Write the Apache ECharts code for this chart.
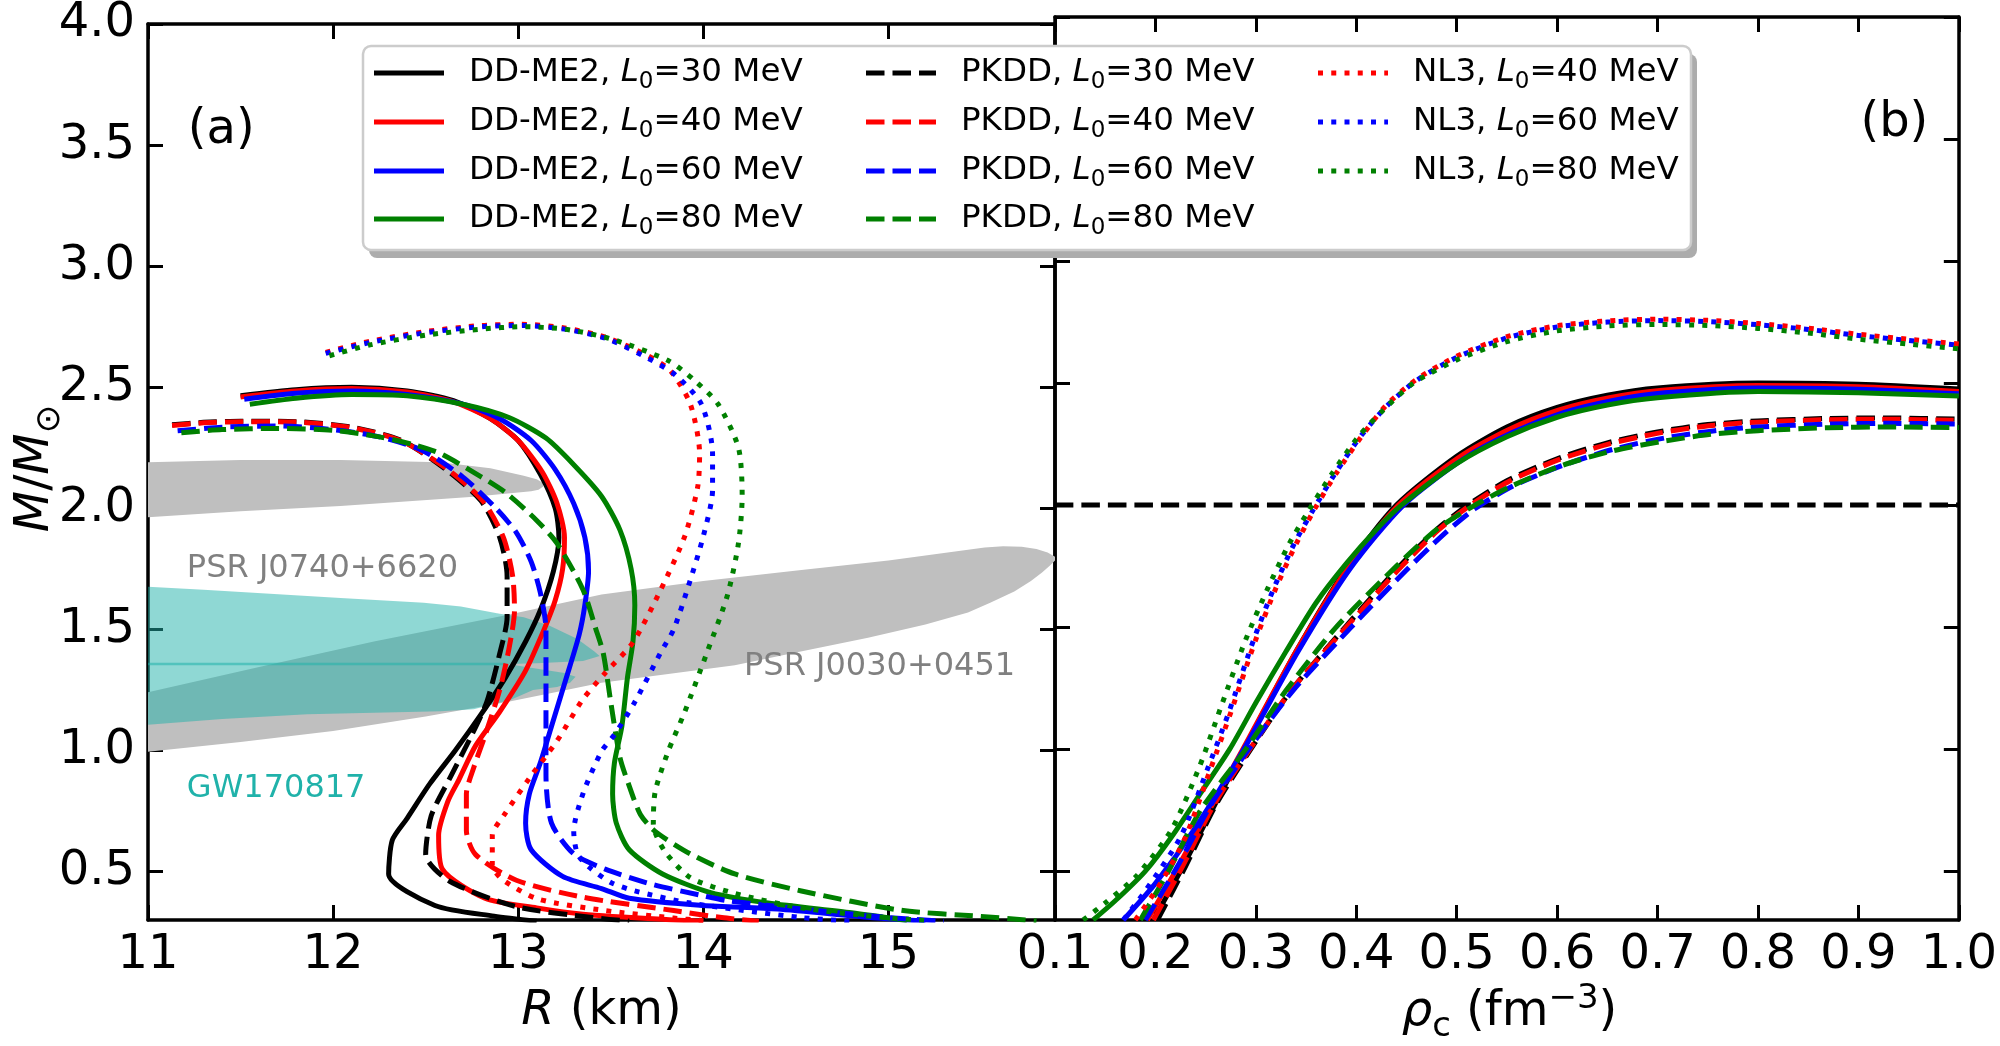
<!DOCTYPE html>
<html>
<head>
    <meta http-equiv="Content-Type" content="text/html; charset=UTF-8">
    <title>M-R and M-rho_c</title>
    <script src="https://cdn.jsdelivr.net/npm/echarts@6/dist/echarts.min.js"></script>
</head>
<body style="margin:0;background:#fff;">
<div id="main" style="width: 2000px; height: 1046px;"></div>

<script type="text/javascript">
    // ---- tick values ----
    var M_TICKS = [0.5, 1.0, 1.5, 2.0, 2.5, 3.0, 3.5, 4.0];
    var R_TICKS = [11, 12, 13, 14, 15];
    var RHO_TICKS = [0.1, 0.2, 0.3, 0.4, 0.5, 0.6, 0.7, 0.8, 0.9, 1.0];

    // ---- panel (a): M vs R, [R (km), M/Msun] ----
    var mrDDME2_30 = [[11.50,2.465],[11.8,2.49],[12.1,2.50],[12.4,2.485],[12.65,2.445],[12.85,2.37],[13.0,2.28],[13.12,2.14],[13.2,2.0],[13.22,1.88],[13.19,1.74],[13.12,1.58],[13.04,1.45],[12.93,1.3],[12.8,1.15],[12.66,1.0],[12.52,0.86],[12.4,0.72],[12.32,0.63],[12.3,0.49],[12.55,0.36],[12.87,0.316],[13.1,0.295]];
    var mrDDME2_40 = [[11.50,2.46],[11.8,2.485],[12.1,2.495],[12.4,2.48],[12.65,2.44],[12.85,2.37],[13.0,2.28],[13.13,2.15],[13.21,2.02],[13.25,1.88],[13.24,1.75],[13.2,1.62],[13.14,1.5],[13.04,1.33],[12.9,1.16],[12.77,1.02],[12.68,0.88],[12.62,0.79],[12.57,0.65],[12.59,0.51],[12.82,0.39],[13.1,0.35],[13.35,0.324],[13.84,0.30],[14.0,0.295]];
    var mrDDME2_60 = [[11.52,2.45],[11.8,2.475],[12.1,2.485],[12.4,2.47],[12.7,2.43],[12.9,2.37],[13.07,2.28],[13.2,2.16],[13.3,2.02],[13.36,1.88],[13.38,1.74],[13.36,1.6],[13.33,1.48],[13.26,1.3],[13.18,1.1],[13.12,0.95],[13.06,0.82],[13.04,0.70],[13.07,0.59],[13.24,0.48],[13.45,0.43],[13.6,0.39],[14.0,0.36],[14.4,0.345],[14.9,0.31],[15.2,0.295]];
    var mrDDME2_80 = [[11.55,2.43],[11.8,2.455],[12.1,2.47],[12.4,2.465],[12.7,2.43],[12.95,2.375],[13.15,2.29],[13.3,2.18],[13.45,2.05],[13.55,1.91],[13.61,1.75],[13.63,1.6],[13.62,1.45],[13.59,1.3],[13.56,1.1],[13.52,0.95],[13.51,0.82],[13.53,0.70],[13.6,0.59],[13.78,0.49],[14.04,0.413],[14.35,0.37],[14.8,0.33],[15.1,0.298]];

    var mrPKDD_30 = [[11.13,2.345],[11.3,2.355],[11.5,2.36],[11.8,2.358],[12.1,2.335],[12.37,2.28],[12.61,2.16],[12.8,2.03],[12.9,1.88],[12.94,1.72],[12.94,1.55],[12.9,1.40],[12.83,1.20],[12.74,1.05],[12.63,0.885],[12.53,0.73],[12.5,0.57],[12.63,0.46],[12.99,0.355],[13.4,0.31],[13.6,0.295]];
    var mrPKDD_40 = [[11.13,2.342],[11.3,2.353],[11.5,2.358],[11.8,2.356],[12.1,2.333],[12.37,2.278],[12.62,2.16],[12.81,2.03],[12.92,1.88],[12.97,1.72],[12.98,1.58],[12.95,1.42],[12.9,1.25],[12.82,1.06],[12.76,0.93],[12.72,0.82],[12.72,0.67],[12.77,0.57],[12.99,0.464],[13.35,0.394],[13.84,0.339],[14.1,0.31],[14.3,0.295]];
    var mrPKDD_60 = [[11.16,2.32],[11.4,2.335],[11.7,2.34],[12.0,2.325],[12.25,2.295],[12.48,2.24],[12.7,2.13],[12.88,2.0],[12.99,1.9],[13.07,1.78],[13.12,1.65],[13.15,1.5],[13.15,1.3],[13.15,1.1],[13.15,0.9],[13.18,0.70],[13.3,0.573],[13.47,0.51],[13.72,0.448],[14.0,0.40],[14.13,0.38],[14.6,0.34],[15.0,0.31],[15.3,0.295]];
    var mrPKDD_80 = [[11.18,2.312],[11.4,2.325],[11.7,2.33],[12.0,2.322],[12.25,2.295],[12.45,2.26],[12.58,2.226],[12.8,2.13],[12.94,2.06],[13.1,1.95],[13.21,1.855],[13.35,1.664],[13.42,1.5],[13.46,1.40],[13.5,1.2],[13.55,0.97],[13.6,0.853],[13.66,0.736],[13.74,0.666],[13.93,0.573],[14.17,0.49],[14.53,0.42],[15.07,0.34],[15.5,0.315],[15.74,0.30],[15.8,0.296]];

    var mrNL3_40 = [[11.96,2.644],[12.2,2.69],[12.5,2.73],[12.8,2.755],[13.02,2.76],[13.25,2.745],[13.48,2.705],[13.7,2.63],[13.82,2.57],[13.93,2.43],[13.98,2.226],[13.97,2.09],[13.9,1.885],[13.77,1.664],[13.62,1.446],[13.47,1.32],[13.35,1.212],[13.21,1.04],[13.06,0.885],[12.92,0.729],[12.86,0.651],[12.86,0.526],[12.92,0.464],[13.11,0.386],[13.47,0.339],[13.84,0.308],[14.0,0.297]];
    var mrNL3_60 = [[11.96,2.64],[12.2,2.685],[12.5,2.725],[12.8,2.75],[13.02,2.755],[13.25,2.74],[13.48,2.70],[13.7,2.62],[13.85,2.55],[13.99,2.43],[14.05,2.226],[14.05,2.075],[14.0,1.885],[13.92,1.68],[13.84,1.50],[13.77,1.405],[13.63,1.20],[13.52,1.065],[13.45,0.996],[13.35,0.822],[13.30,0.666],[13.32,0.573],[13.38,0.52],[13.5,0.455],[13.63,0.42],[13.93,0.37],[14.53,0.31],[14.8,0.295]];
    var mrNL3_80 = [[11.98,2.63],[12.2,2.675],[12.5,2.715],[12.8,2.74],[13.02,2.75],[13.25,2.74],[13.5,2.70],[13.81,2.61],[13.95,2.53],[14.08,2.43],[14.19,2.25],[14.21,2.05],[14.19,1.856],[14.13,1.64],[14.02,1.405],[13.9,1.16],[13.81,0.996],[13.74,0.83],[13.73,0.695],[13.79,0.586],[13.93,0.475],[14.17,0.41],[14.53,0.35],[14.98,0.31],[15.2,0.298]];

    // ---- panel (b): M vs rho_c, [rho_c (fm^-3), M/Msun] ----
    var rhoDDME2_30 = [[0.198,0.3],[0.225,0.5],[0.25,0.70],[0.288,1.0],[0.34,1.40],[0.39,1.74],[0.44,2.0],[0.5,2.2],[0.55,2.32],[0.6,2.40],[0.65,2.45],[0.7,2.48],[0.8,2.50],[0.9,2.495],[1.0,2.476]];
    var rhoDDME2_40 = [[0.192,0.3],[0.22,0.5],[0.247,0.70],[0.287,1.0],[0.34,1.40],[0.391,1.74],[0.442,2.0],[0.502,2.195],[0.552,2.31],[0.602,2.39],[0.652,2.44],[0.702,2.47],[0.8,2.49],[0.9,2.485],[1.0,2.466]];
    var rhoDDME2_60 = [[0.168,0.3],[0.2,0.45],[0.24,0.68],[0.288,1.0],[0.342,1.40],[0.394,1.74],[0.447,2.0],[0.507,2.19],[0.557,2.30],[0.607,2.38],[0.657,2.43],[0.707,2.46],[0.8,2.48],[0.9,2.475],[1.0,2.456]];
    var rhoDDME2_80 = [[0.138,0.3],[0.163,0.39],[0.19,0.5],[0.216,0.64],[0.245,0.82],[0.274,1.0],[0.30,1.19],[0.33,1.40],[0.36,1.6],[0.39,1.76],[0.42,1.9],[0.445,2.0],[0.5,2.17],[0.55,2.28],[0.6,2.36],[0.65,2.41],[0.7,2.44],[0.8,2.465],[0.9,2.46],[1.0,2.447]];

    var rhoPKDD_30 = [[0.202,0.3],[0.23,0.52],[0.26,0.77],[0.295,1.0],[0.335,1.24],[0.389,1.5],[0.442,1.745],[0.48,1.9],[0.511,2.0],[0.55,2.1],[0.6,2.19],[0.65,2.255],[0.7,2.3],[0.75,2.33],[0.8,2.345],[0.87,2.355],[0.93,2.357],[1.0,2.352]];
    var rhoPKDD_40 = [[0.198,0.3],[0.227,0.52],[0.258,0.77],[0.294,1.0],[0.335,1.24],[0.39,1.5],[0.443,1.74],[0.481,1.895],[0.512,1.995],[0.551,2.095],[0.601,2.185],[0.651,2.25],[0.701,2.295],[0.751,2.325],[0.8,2.34],[0.87,2.35],[0.93,2.352],[1.0,2.347]];
    var rhoPKDD_60 = [[0.19,0.3],[0.222,0.52],[0.255,0.77],[0.293,1.0],[0.337,1.24],[0.395,1.5],[0.449,1.73],[0.487,1.88],[0.518,1.985],[0.557,2.08],[0.607,2.165],[0.657,2.23],[0.707,2.275],[0.757,2.305],[0.8,2.32],[0.87,2.332],[0.93,2.335],[1.0,2.332]];
    var rhoPKDD_80 = [[0.185,0.3],[0.213,0.5],[0.245,0.75],[0.29,1.0],[0.33,1.24],[0.38,1.5],[0.44,1.75],[0.48,1.9],[0.514,1.99],[0.553,2.075],[0.603,2.16],[0.653,2.22],[0.703,2.26],[0.753,2.29],[0.8,2.305],[0.87,2.317],[0.93,2.32],[1.0,2.318]];

    var rhoNL3_40 = [[0.18,0.3],[0.205,0.45],[0.23,0.64],[0.255,0.92],[0.275,1.15],[0.3,1.45],[0.32,1.66],[0.34,1.84],[0.358,1.98],[0.38,2.13],[0.405,2.28],[0.43,2.41],[0.46,2.515],[0.5,2.61],[0.55,2.69],[0.6,2.735],[0.65,2.755],[0.7,2.762],[0.75,2.757],[0.8,2.744],[0.85,2.725],[0.9,2.70],[0.95,2.68],[1.0,2.66]];
    var rhoNL3_60 = [[0.168,0.3],[0.19,0.42],[0.225,0.64],[0.252,0.92],[0.273,1.15],[0.298,1.45],[0.318,1.66],[0.338,1.84],[0.357,1.98],[0.379,2.13],[0.404,2.28],[0.429,2.40],[0.459,2.508],[0.5,2.605],[0.55,2.685],[0.6,2.73],[0.65,2.75],[0.7,2.756],[0.75,2.752],[0.8,2.739],[0.85,2.72],[0.9,2.695],[0.95,2.675],[1.0,2.655]];
    var rhoNL3_80 = [[0.128,0.3],[0.15,0.37],[0.181,0.48],[0.216,0.67],[0.244,0.93],[0.265,1.17],[0.29,1.45],[0.312,1.66],[0.333,1.84],[0.353,1.98],[0.376,2.13],[0.402,2.28],[0.427,2.39],[0.457,2.5],[0.5,2.595],[0.55,2.67],[0.6,2.714],[0.65,2.734],[0.7,2.74],[0.75,2.736],[0.8,2.724],[0.85,2.705],[0.9,2.68],[0.95,2.66],[1.0,2.64]];

    var twoSolarMass = [[0.1, 2.0], [1.0, 2.0]];

    // ---- observational constraints (outlines in R, M) ----
    var bandJ0740 = [[11,2.19],[11.5,2.2],[12.04,2.2],[12.58,2.19],[12.85,2.165],[13.03,2.135],[13.1,2.12],[13.135,2.105],[13.135,2.09],[13.11,2.077],[13.07,2.07],[12.76,2.048],[12.04,2.01],[11.5,1.988],[11,1.963]];
    var bandJ0030 = [[11,1.24],[11.6,1.345],[12.22,1.45],[12.94,1.56],[13.45,1.644],[14.0,1.70],[14.53,1.745],[15.0,1.785],[15.25,1.81],[15.52,1.838],[15.62,1.843],[15.72,1.841],[15.8,1.832],[15.86,1.818],[15.9,1.80],
                     [15.9,1.785],[15.87,1.762],[15.83,1.735],[15.77,1.70],[15.68,1.657],[15.55,1.61],[15.43,1.57],[15.2,1.52],[14.89,1.466],[14.5,1.405],[14.17,1.352],[13.8,1.315],[13.45,1.28],[13.2,1.24],[12.94,1.20],[12.5,1.14],[12.0,1.08],[11.5,1.035],[11,0.995]];
    var bandGW170817 = [[11,1.676],[11.3,1.664],[12.04,1.63],[12.49,1.61],[12.69,1.595],[12.9,1.565],[13.03,1.55],[13.17,1.515],[13.32,1.46],[13.41,1.41],[13.44,1.39],[13.35,1.37],[13.1,1.36],[12.94,1.357],
                        [13.12,1.335],[13.25,1.32],[13.31,1.305],[13.28,1.28],[13.21,1.262],[13.08,1.25],[12.96,1.21],[12.76,1.17],[12.58,1.162],[11.86,1.15],[11.4,1.13],[11,1.106]];
    var gwMidLine = [[11,1.357],[12.93,1.357]];

    // ---- annotation anchors (data coords) ----
    var notesA = [
        {text: 'PSR J0740+6620', at: [11.21, 1.750], color: '#808080'},
        {text: 'PSR J0030+0451', at: [14.22, 1.344], color: '#808080'},
        {text: 'GW170817', at: [11.21, 0.844], color: '#20b2aa'},
        {text: '(a)', at: [11.215, 3.562], color: '#000', size: 48}
    ];
    var notesB = [
        {text: '(b)', at: [0.902, 3.562], color: '#000', size: 48}
    ];

    var FONT = 'DejaVu Sans';
    var SOLID = 'solid', DASHED = [18.5, 8], DOTTED = [5, 8.25];
    var GL = {left: 148, top: 17, width: 907, height: 903};
    var GR = {left: 1055, top: 17, width: 909, height: 903};

    var models = [
        {name: 'DD-ME2', L: [30, 40, 60, 80], colors: ['#000000', '#ff0000', '#0000ff', '#008000'], dash: SOLID,
            mr: [mrDDME2_30, mrDDME2_40, mrDDME2_60, mrDDME2_80], rho: [rhoDDME2_30, rhoDDME2_40, rhoDDME2_60, rhoDDME2_80]},
        {name: 'PKDD', L: [30, 40, 60, 80], colors: ['#000000', '#ff0000', '#0000ff', '#008000'], dash: DASHED,
            mr: [mrPKDD_30, mrPKDD_40, mrPKDD_60, mrPKDD_80], rho: [rhoPKDD_30, rhoPKDD_40, rhoPKDD_60, rhoPKDD_80]},
        {name: 'NL3', L: [40, 60, 80], colors: ['#ff0000', '#0000ff', '#008000'], dash: DOTTED,
            mr: [mrNL3_40, mrNL3_60, mrNL3_80], rho: [rhoNL3_40, rhoNL3_60, rhoNL3_80]}
    ];

    function curve(data, color, dash, idx) {
        return {
            type: 'line', data: data, xAxisIndex: idx, yAxisIndex: idx,
            showSymbol: false, symbol: 'none', smooth: 0.25, silent: true, z: 5,
            lineStyle: {color: color, width: 5, type: dash, cap: 'butt', join: 'round'}
        };
    }

    function band(pts, fill) {
        return {
            type: 'custom', xAxisIndex: 0, yAxisIndex: 0, silent: true, z: 2,
            data: [pts[0]],
            renderItem: function (params, api) {
                return {
                    type: 'polygon',
                    shape: {points: pts.map(function (p) { return api.coord(p); })},
                    style: {fill: fill}
                };
            }
        };
    }

    function axis(dim, grid, pos, min, max, ticks, labels) {
        return {
            type: 'value', gridIndex: grid, position: pos, min: min, max: max,
            axisLine: {show: true, onZero: false, lineStyle: {color: '#000', width: 3.5}},
            axisTick: {show: true, inside: true, length: 15, customValues: ticks, lineStyle: {color: '#000', width: 3}},
            splitLine: {show: false},
            axisLabel: {show: !!labels, customValues: ticks, fontSize: 48, fontFamily: FONT, color: '#000',
                margin: dim === 'x' ? 12 : 13, formatter: labels || undefined}
        };
    }

    var series = [
        band(bandJ0740, '#bfbfbf'),
        band(bandJ0030, '#bfbfbf'),
        band(bandGW170817, 'rgba(32,178,170,0.5)'),
        {type: 'line', data: gwMidLine, xAxisIndex: 0, yAxisIndex: 0, showSymbol: false, symbol: 'none', silent: true, z: 3,
            lineStyle: {color: 'rgba(32,178,170,0.55)', width: 2.5}},
        curve(twoSolarMass, '#000000', DASHED, 1)
    ];
    models.forEach(function (m) {
        m.L.forEach(function (L, k) {
            series.push(curve(m.mr[k], m.colors[k], m.dash, 0));
            series.push(curve(m.rho[k], m.colors[k], m.dash, 1));
        });
    });

    var fmt1 = function (v) { return v.toFixed(1); };
    var fmt0 = function (v) { return String(Math.round(v)); };

    var chart = echarts.init(document.getElementById('main'));
    chart.setOption({
        animation: false,
        backgroundColor: '#ffffff',
        grid: [
            {left: GL.left, top: GL.top, width: GL.width, height: GL.height},
            {left: GR.left, top: GR.top, width: GR.width, height: GR.height}
        ],
        xAxis: [
            axis('x', 0, 'bottom', 11, 15.9, R_TICKS, fmt0),
            axis('x', 1, 'bottom', 0.1, 1.0, RHO_TICKS, fmt1),
            axis('x', 0, 'top', 11, 15.9, R_TICKS, null),
            axis('x', 1, 'top', 0.1, 1.0, RHO_TICKS, null)
        ],
        yAxis: [
            axis('y', 0, 'left', 0.3, 4.0, M_TICKS, fmt1),
            axis('y', 1, 'left', 0.3, 4.0, M_TICKS, null),
            axis('y', 0, 'right', 0.3, 4.0, M_TICKS, null),
            axis('y', 1, 'right', 0.3, 4.0, M_TICKS, null)
        ],
        series: series
    });

    // ---- texts, axis titles and legend ----
    function rich(size) {
        return {
            n: {fontSize: size, fontFamily: FONT, color: '#000', lineHeight: Math.round(size * 1.3)},
            i: {fontSize: size, fontFamily: FONT, fontStyle: 'italic', color: '#000', lineHeight: Math.round(size * 1.3)},
            s: {fontSize: Math.round(size * 0.7), fontFamily: FONT, color: '#000', lineHeight: Math.round(size * 0.7), verticalAlign: 'bottom'},
            p: {fontSize: Math.round(size * 0.7), fontFamily: FONT, color: '#000', lineHeight: Math.round(size * 0.7), verticalAlign: 'top'}
        };
    }

    var g = [];
    notesA.forEach(function (t) {
        var p = chart.convertToPixel({gridIndex: 0}, t.at);
        g.push({type: 'text', x: p[0], y: p[1], z: 50,
            style: {text: t.text, fill: t.color, fontSize: t.size || 32, fontFamily: FONT, align: 'left', verticalAlign: 'middle'}});
    });
    notesB.forEach(function (t) {
        var p = chart.convertToPixel({gridIndex: 1}, t.at);
        g.push({type: 'text', x: p[0], y: p[1], z: 50,
            style: {text: t.text, fill: t.color, fontSize: t.size || 32, fontFamily: FONT, align: 'left', verticalAlign: 'middle'}});
    });

    // axis titles
    g.push({type: 'text', x: GL.left + GL.width / 2, y: 1012, z: 50,
        style: {text: '{i|R}{n| (km)}', rich: rich(48), align: 'center', verticalAlign: 'middle'}});
    g.push({type: 'text', x: GR.left + GR.width / 2, y: 1013, z: 50,
        style: {text: '{i|ρ}{s|c}{n| (fm}{p|−3}{n|)}', rich: rich(48), align: 'center', verticalAlign: 'middle'}});
    g.push({type: 'text', x: 36, y: GL.top + GL.height / 2, rotation: Math.PI / 2, z: 50,
        style: {text: '{i|M}{n|/}{i|M}{s|⊙}', rich: rich(48), align: 'center', verticalAlign: 'middle'}});

    // legend box with shadow
    var LB = {x: 363, y: 46, w: 1328, h: 204};
    g.push({type: 'rect', z: 60, shape: {x: LB.x + 6, y: LB.y + 8, width: LB.w, height: LB.h, r: 8},
        style: {fill: '#acacac'}});
    g.push({type: 'rect', z: 61, shape: {x: LB.x, y: LB.y, width: LB.w, height: LB.h, r: 8},
        style: {fill: '#ffffff', stroke: '#cccccc', lineWidth: 2.5}});

    var colX = [374, 866, 1318];
    var rowY = [73, 122, 171, 219];
    models.forEach(function (m, c) {
        m.L.forEach(function (L, k) {
            var x0 = colX[c], y0 = rowY[k];
            g.push({type: 'line', z: 62, shape: {x1: x0, y1: y0, x2: x0 + 70, y2: y0},
                style: {stroke: m.colors[k], lineWidth: 5, lineDash: m.dash === SOLID ? null : m.dash, lineCap: 'butt'}});
            g.push({type: 'text', z: 62, x: x0 + 95, y: y0,
                style: {text: '{n|' + m.name + ', }{i|L}{s|0}{n|=' + L + ' MeV}', rich: rich(32.5), align: 'left', verticalAlign: 'middle'}});
        });
    });

    chart.setOption({graphic: g});
</script>

</body>
</html>
